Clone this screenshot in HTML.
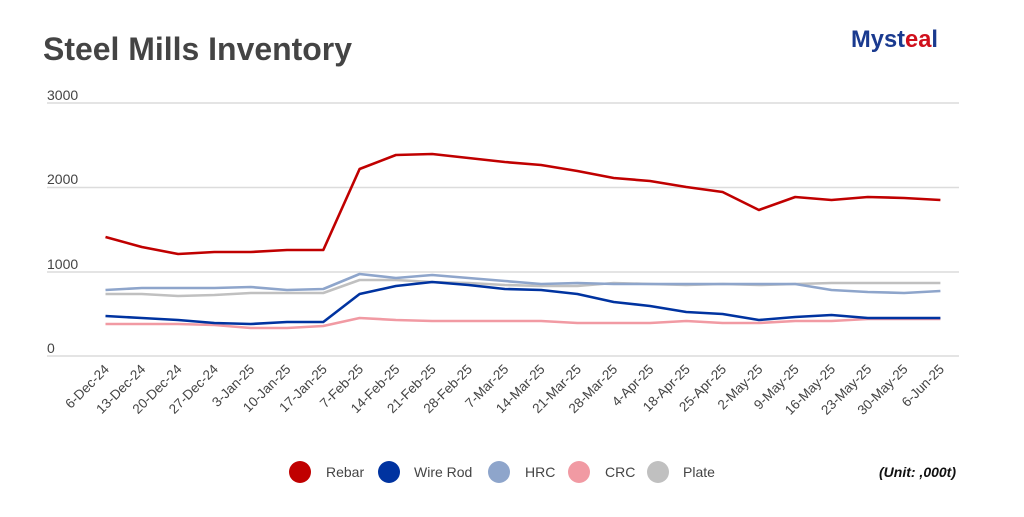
<!DOCTYPE html>
<html><head><meta charset="utf-8"><style>
body{margin:0;background:#fff;width:1024px;height:512px;overflow:hidden;font-family:"Liberation Sans",sans-serif}
</style></head><body>
<svg width="1024" height="512" xmlns="http://www.w3.org/2000/svg" font-family="Liberation Sans, sans-serif">
<text x="43" y="60" font-size="32" font-weight="bold" fill="#444" textLength="309" lengthAdjust="spacingAndGlyphs">Steel Mills Inventory</text>
<text x="851" y="47" font-size="24" font-weight="bold" fill="#1a3a8f" textLength="87" lengthAdjust="spacingAndGlyphs">Myst<tspan fill="#d0101c">ea</tspan>l</text>
<g stroke="#dcdcdc" stroke-width="1.5">
<line x1="47" x2="959" y1="103" y2="103"/><line x1="47" x2="959" y1="187.5" y2="187.5"/>
<line x1="47" x2="959" y1="272" y2="272"/><line x1="47" x2="959" y1="356" y2="356"/>
</g>
<g font-size="14" fill="#444">
<text x="47" y="100">3000</text><text x="47" y="184">2000</text><text x="47" y="269">1000</text><text x="47" y="353">0</text>
</g>
<g fill="none" stroke-width="2.6" stroke-linejoin="round">
<polyline stroke="#c0c0c0" points="105.5,294 141.8,294 178.1,296 214.4,295 250.7,293 287,293 323.3,293 359.6,280 395.9,280 432.2,282 468.5,283 504.8,285 541.1,286 577.4,286 613.7,283 650,284 686.3,285 722.6,284 758.9,285 795.2,284 831.5,283 867.8,283 904.1,283 940.4,283"/>
<polyline stroke="#8ea5cb" points="105.5,290 141.8,288 178.1,288 214.4,288 250.7,287 287,290 323.3,289 359.6,274 395.9,278 432.2,275 468.5,278 504.8,281 541.1,284 577.4,283 613.7,284 650,284 686.3,284 722.6,284 758.9,284 795.2,284 831.5,290 867.8,292 904.1,293 940.4,291"/>
<polyline stroke="#f19aa3" points="105.5,324 141.8,324 178.1,324 214.4,325 250.7,328 287,328 323.3,326 359.6,318 395.9,320 432.2,321 468.5,321 504.8,321 541.1,321 577.4,323 613.7,323 650,323 686.3,321 722.6,323 758.9,323 795.2,321 831.5,321 867.8,319 904.1,319 940.4,319"/>
<polyline stroke="#0033a0" points="105.5,316 141.8,318 178.1,320 214.4,323 250.7,324 287,322 323.3,322 359.6,294 395.9,286 432.2,282 468.5,285 504.8,289 541.1,290 577.4,294 613.7,302 650,306 686.3,312 722.6,314 758.9,320 795.2,317 831.5,315 867.8,318 904.1,318 940.4,318"/>
<polyline stroke="#c00000" points="105.5,237 141.8,247 178.1,254 214.4,252 250.7,252 287,250 323.3,250 359.6,169 395.9,155 432.2,154 468.5,158 504.8,162 541.1,165 577.4,171 613.7,178 650,181 686.3,187 722.6,192 758.9,210 795.2,197 831.5,200 867.8,197 904.1,198 940.4,200"/>
</g>
<g font-size="13.5" fill="#444" text-anchor="end">
<text transform="translate(110,370) rotate(-45)">6-Dec-24</text>
<text transform="translate(146.3,370) rotate(-45)">13-Dec-24</text>
<text transform="translate(182.6,370) rotate(-45)">20-Dec-24</text>
<text transform="translate(218.9,370) rotate(-45)">27-Dec-24</text>
<text transform="translate(255.2,370) rotate(-45)">3-Jan-25</text>
<text transform="translate(291.5,370) rotate(-45)">10-Jan-25</text>
<text transform="translate(327.8,370) rotate(-45)">17-Jan-25</text>
<text transform="translate(364.1,370) rotate(-45)">7-Feb-25</text>
<text transform="translate(400.4,370) rotate(-45)">14-Feb-25</text>
<text transform="translate(436.7,370) rotate(-45)">21-Feb-25</text>
<text transform="translate(473,370) rotate(-45)">28-Feb-25</text>
<text transform="translate(509.3,370) rotate(-45)">7-Mar-25</text>
<text transform="translate(545.6,370) rotate(-45)">14-Mar-25</text>
<text transform="translate(581.9,370) rotate(-45)">21-Mar-25</text>
<text transform="translate(618.2,370) rotate(-45)">28-Mar-25</text>
<text transform="translate(654.5,370) rotate(-45)">4-Apr-25</text>
<text transform="translate(690.8,370) rotate(-45)">18-Apr-25</text>
<text transform="translate(727.1,370) rotate(-45)">25-Apr-25</text>
<text transform="translate(763.4,370) rotate(-45)">2-May-25</text>
<text transform="translate(799.7,370) rotate(-45)">9-May-25</text>
<text transform="translate(836,370) rotate(-45)">16-May-25</text>
<text transform="translate(872.3,370) rotate(-45)">23-May-25</text>
<text transform="translate(908.6,370) rotate(-45)">30-May-25</text>
<text transform="translate(944.9,370) rotate(-45)">6-Jun-25</text>
</g>
<g font-size="14" fill="#444">
<circle cx="300" cy="472" r="11" fill="#c00000"/><text x="326" y="477">Rebar</text>
<circle cx="389" cy="472" r="11" fill="#0033a0"/><text x="414" y="477">Wire Rod</text>
<circle cx="499" cy="472" r="11" fill="#8ea5cb"/><text x="525" y="477">HRC</text>
<circle cx="579" cy="472" r="11" fill="#f19aa3"/><text x="605" y="477">CRC</text>
<circle cx="658" cy="472" r="11" fill="#c0c0c0"/><text x="683" y="477">Plate</text>
</g>
<text x="956" y="477" font-size="14" font-weight="bold" font-style="italic" fill="#111" text-anchor="end">(Unit: ,000t)</text>
</svg>
</body></html>
